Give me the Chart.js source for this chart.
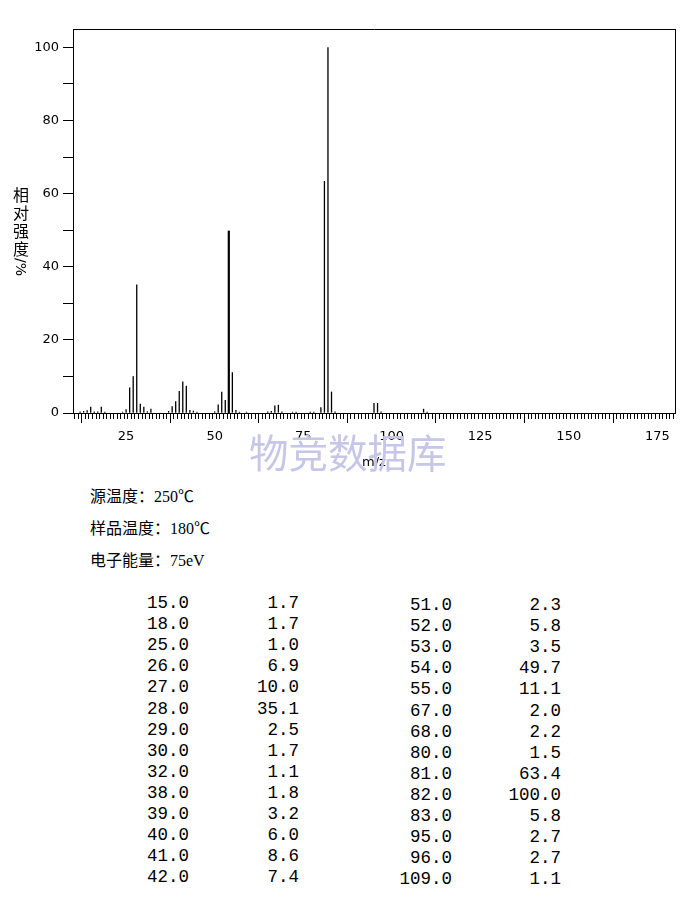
<!DOCTYPE html>
<html><head><meta charset="utf-8">
<script src="https://cdn.jsdelivr.net/npm/chart.js@4.4.0/dist/chart.umd.min.js"></script>
<style>
html,body{margin:0;padding:0;background:#fff;}
#wrap{position:relative;width:696px;height:907px;overflow:hidden;background:#fff;}
canvas{position:absolute;left:0;top:0;}
.ych{position:absolute;left:12px;width:18px;text-align:center;font-size:16px;font-family:"Noto Sans CJK SC",sans-serif;color:#000;line-height:18px;}
.yrot{position:absolute;left:21px;top:267px;font-size:14px;font-family:"DejaVu Sans",sans-serif;color:#000;line-height:14px;white-space:nowrap;transform:translate(-50%,-50%) rotate(90deg);}
.wm{position:absolute;left:249px;top:425px;font-size:39.5px;font-family:"Noto Sans CJK SC",sans-serif;color:#c6c6e8;white-space:nowrap;line-height:52px;}
.info{position:absolute;left:90px;font-size:16px;font-family:"Liberation Serif","Noto Sans CJK SC",serif;color:#000;line-height:20px;white-space:nowrap;}
.cell{position:absolute;font-size:17.5px;font-family:"Liberation Mono",monospace;text-align:right;white-space:pre;line-height:21px;color:#000;}
</style></head>
<body>
<div id="wrap">
<canvas id="c" width="696" height="480"></canvas>
<div id="ytitle"></div>
<div class="wm">物竞数据库</div>
<div id="infos"></div>
<div id="table"></div>
</div>
<script>
// m/z values and relative intensities (%)
const mzValues = [12,13,14,15,16,17,18,19,24,25,26,27,28,29,30,31,32,37,38,39,40,41,42,43,44,45,50,51,52,53,54,55,56,57,59,65,66,67,68,69,72,73,77,78,80,81,82,83,84,95,96,97,109,110];
const intensities = [0.4,0.5,0.7,1.7,0.4,0.4,1.7,0.3,0.3,1.0,6.9,10.0,35.1,2.5,1.7,0.4,1.1,0.5,1.8,3.2,6.0,8.6,7.4,0.8,0.6,0.3,0.4,2.3,5.8,3.5,49.7,11.1,0.8,0.3,0.3,0.4,0.5,2.0,2.2,0.4,0.3,0.3,0.3,0.3,1.5,63.4,100.0,5.8,0.4,2.7,2.7,0.4,1.1,0.3];
const xTickLabels = [25,50,75,100,125,150,175];
const yTickLabels = [0,20,40,60,80,100];
const yTitleChars = ['相','对','强','度'];
const yTitleTail = '/%';
const xTitle = 'm/z';
const infoLines = ['源温度：250℃','样品温度：180℃','电子能量：75eV'];

const points = mzValues.map((m,i)=>({x:m,y:intensities[i]}));
const minorX = []; for (let v=10; v<=180; v++) minorX.push(v);
const yTicks = []; for (let v=0; v<=100; v+=10) yTicks.push(v);

const tickFont = {family:'DejaVu Sans', size:13};
new Chart(document.getElementById('c'), {
  type:'bar',
  data:{datasets:[{data:points, backgroundColor:'#000', borderWidth:0, barThickness:1, grouped:false,
     inflateAmount:(ctx)=> (ctx.raw && ctx.raw.y>40 && ctx.raw.y<60) ? 0.6 : 0.15,
     xAxisID:'x', yAxisID:'y'}]},
  options:{
    responsive:false, animation:false, devicePixelRatio:1,
    layout:{padding:{left:0,right:21,top:29,bottom:0}},
    plugins:{legend:{display:false}, tooltip:{enabled:false}},
    scales:{
      x:{type:'linear', position:'bottom', min:10, max:180, weight:0, offset:false,
         afterBuildTicks:s=>{s.ticks=minorX.map(v=>({value:v}));},
         afterFit:s=>{s.height=0;},
         ticks:{display:false},
         grid:{drawOnChartArea:false, drawTicks:true, tickLength:6, color:'#000', tickColor:'#000', lineWidth:1},
         border:{display:true, color:'#000', width:1}},
      xMajor:{type:'linear', position:'bottom', min:10, max:180, weight:1, offset:false,
         afterBuildTicks:s=>{s.ticks=xTickLabels.map(v=>({value:v}));},
         afterFit:s=>{s.height=480-413;},
         ticks:{display:true, color:'#000', font:tickFont, padding:6, maxRotation:0, autoSkip:false},
         grid:{drawOnChartArea:false, drawTicks:true, tickLength:10, tickColor:'#000'},
         border:{display:false},
         title:{display:true, text:xTitle, color:'#000', font:tickFont, padding:{top:0,bottom:10}}},
      xTop:{type:'linear', position:'top', min:10, max:180,
         afterFit:s=>{s.height=0;},
         ticks:{display:false}, grid:{display:false}, border:{display:true,color:'#000',width:1}},
      y:{type:'linear', position:'left', min:0, max:105,
         afterBuildTicks:s=>{s.ticks=yTicks.map(v=>({value:v}));},
         afterFit:s=>{s.width=73;},
         ticks:{color:'#000', font:tickFont, padding:4, autoSkip:false,
           callback:(v)=> yTickLabels.includes(v) ? String(v) : ''},
         grid:{drawOnChartArea:false, drawTicks:true, tickLength:10, tickColor:'#000'},
         border:{display:true,color:'#000',width:1}},
      yRight:{type:'linear', position:'right', min:0, max:105,
         afterFit:s=>{s.width=0;},
         ticks:{display:false}, grid:{display:false}, border:{display:true,color:'#000',width:1}}
    }
  }
});

// y-axis title: upright CJK stacked, tail rotated
const yt = document.getElementById('ytitle');
yTitleChars.forEach((ch,i)=>{
  const d=document.createElement('div'); d.className='ych';
  d.style.top=(185+i*18)+'px'; d.textContent=ch; yt.appendChild(d);
});
const tail=document.createElement('div'); tail.className='yrot'; tail.textContent=yTitleTail; yt.appendChild(tail);

// info lines
const infos = document.getElementById('infos');
infoLines.forEach((t,i)=>{
  const d=document.createElement('div'); d.className='info';
  d.style.top=(487+i*32)+'px'; d.textContent=t; infos.appendChild(d);
});
// peak table (peaks >= 1.0 %)
const tableRows = mzValues.map((m,i)=>[m,intensities[i]]).filter(r=>r[1]>=1.0);
const half = Math.ceil(tableRows.length/2);
const tbl = document.getElementById('table');
function cell(text, rightEdge, top){
  const d=document.createElement('div'); d.className='cell';
  d.style.right=(696-rightEdge)+'px'; d.style.top=top+'px'; d.textContent=text; tbl.appendChild(d);
}
tableRows.forEach((r,i)=>{
  const col = i<half?0:1, row = i<half?i:i-half;
  const top = (col===0?593:595) + row*21.1;
  cell(r[0].toFixed(1), col===0?189:452, top);
  cell(r[1].toFixed(1), col===0?299:561, top);
});
</script>
</body></html>
